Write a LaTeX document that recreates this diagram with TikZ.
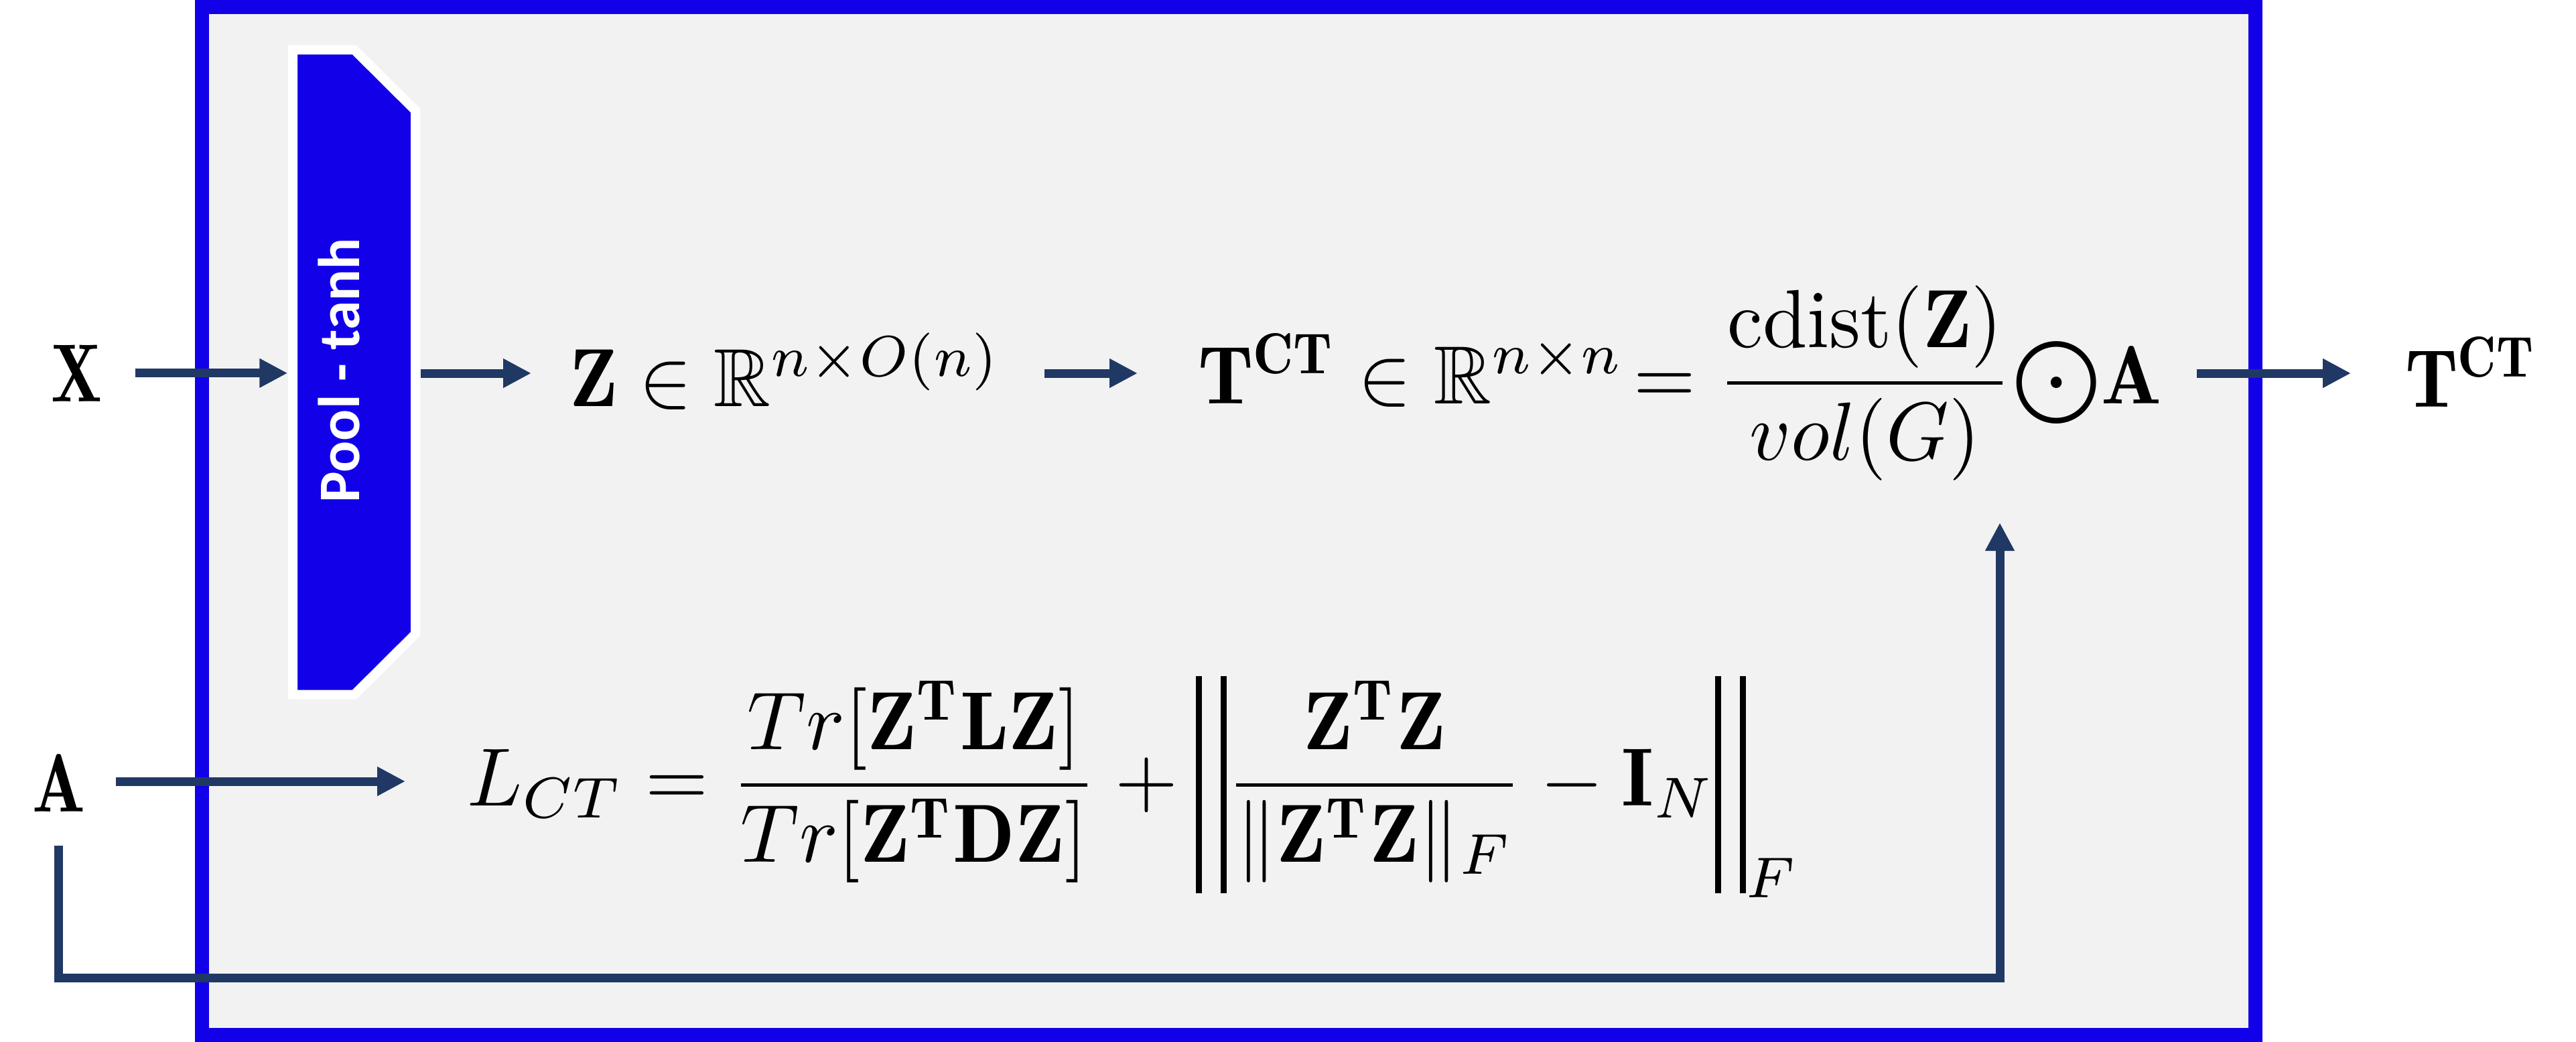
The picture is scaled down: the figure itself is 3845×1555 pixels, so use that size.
\documentclass[tikz,border=0pt]{standalone}
\usepackage{amsmath,amssymb}
\usepackage{fontspec}
\newfontfamily\poolfont{Carlito}
\usetikzlibrary{arrows.meta,calc}
\definecolor{boxblue}{RGB}{17,0,232}
\definecolor{boxgray}{RGB}{242,242,242}
\definecolor{navy}{RGB}{32,56,100}
\newcommand{\fitto}[2]{\resizebox{#1}{3.5\height}{#2}}
\newcommand{\bignorm}{\vcenter{\hbox{\rule{0.75pt}{26.3pt}\hspace{2.3pt}\rule{0.75pt}{26.3pt}}}}
\begin{document}
\begin{tikzpicture}[x=0.1mm,y=-0.1mm,
  lbl/.style={inner sep=0pt,outer sep=0pt,font=\normalsize},
  arr/.style={line width=1.3mm,draw=navy,-{Triangle[length=4.2mm,width=4.1mm]}},
  frame/.style={line width=2.1mm,draw=boxblue,fill=boxgray},
  poolshape/.style={line width=1.4mm,draw=white,fill=boxblue},
  pooltext/.style={rotate=90,anchor=base,text=white,inner sep=0pt,font=\poolfont\bfseries\fontsize{25}{30}\selectfont}]
\useasboundingbox (0,0) rectangle (3845,1555);
% frame
\draw[frame] (301.5,10.5) rectangle (3366.5,1544.5);
% pool block
\draw[poolshape] (437,74.5) -- (529,74.5) -- (620,165) -- (620,946) -- (529,1036.5) -- (437,1036.5) -- cycle;
\node[inner sep=0pt,minimum width=19.7mm,minimum height=97.5mm] (pool) at (528.5,555.5) {};
\node[pooltext] (pooltxt) at (536,553) {Pool - tanh};
% helper rows
\coordinate (row1) at (0,557);
\coordinate (row2) at (0,1166);
\coordinate (fb) at (2985,780);
% texts
\node[lbl,anchor=base west] (X) at (76,599) {\fitto{7.6mm}{$\mathbf{X}$}};
\node[lbl,anchor=base west] (Zf) at (850,606) {\fitto{64.4mm}{$\mathbf{Z}\in\mathbb{R}^{n\times O(n)}$}};
\node[lbl,anchor=base west] (Tf) at (1788,602) {\fitto{143.8mm}{$\mathbf{T}^{\mathbf{CT}}\in\mathbb{R}^{n\times n}\!=\dfrac{\mathrm{cdist}(\mathbf{Z})}{vol(G)}\mathord{\bigodot}\mathbf{A}$}};
\node[lbl,anchor=base west] (Tout) at (3590,607) {\fitto{19.7mm}{$\mathbf{T}^{\mathbf{CT}}$}};
\node[lbl,anchor=base west] (Ain) at (48,1211) {\fitto{7.9mm}{$\mathbf{A}$}};
\node[lbl,anchor=base west] (Lf) at (697,1202) {\fitto{198.9mm}{$L_{CT}=\dfrac{Tr[\mathbf{Z}^{\mathbf{T}}\mathbf{LZ}]}{Tr[\mathbf{Z}^{\mathbf{T}}\mathbf{DZ}]}+\mathopen{\bignorm}\dfrac{\mathbf{Z}^{\mathbf{T}}\mathbf{Z}}{\|\mathbf{Z}^{\mathbf{T}}\mathbf{Z}\|_F}-\mathbf{I}_N\mathclose{\bignorm}_F$}};
% connectors
\draw[arr] ($(X.east)+(50,0)$) -- (X.east -| pool.west);
\draw[arr] (pool.east |- row1) -- ($(Zf.west |- row1)+(-57,0)$);
\draw[arr] ($(Zf.east |- row1)+(65,0)$) -- ($(Tf.west |- row1)+(-90,0)$);
\draw[arr] ($(Tf.east |- row1)+(53,0)$) -- ($(Tout.west |- row1)+(-81,0)$);
\draw[arr] ($(Ain.east |- row2)+(46,0)$) -- ($(Lf.west |- row2)+(-92,0)$);
\draw[arr] ($(Ain.south)+(0,51)$) -- ($(Ain.south)+(0,248)$) -| (fb);
\end{tikzpicture}
\end{document}
